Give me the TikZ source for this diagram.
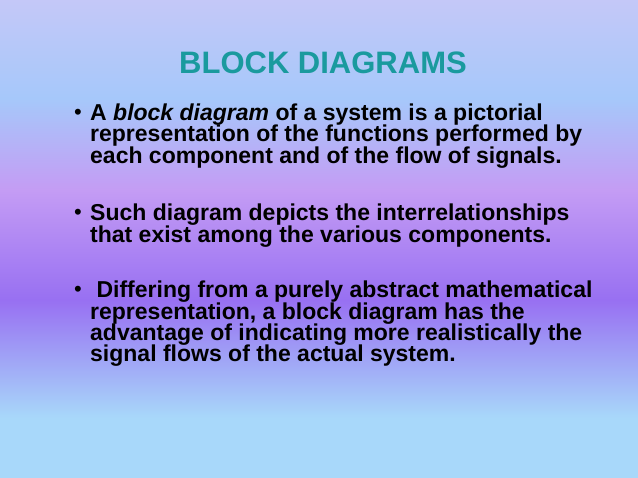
\documentclass[tikz,border=0pt]{standalone}
\usepackage{fontspec}
\setmainfont{Liberation Sans}
\definecolor{cA}{HTML}{A8D8FA}
\definecolor{cB}{HTML}{9870F2}
\definecolor{cC}{HTML}{C49CF4}
\definecolor{cD}{HTML}{A6C8FA}
\definecolor{cE}{HTML}{C4C8F8}
\definecolor{titlec}{HTML}{1A9A9E}
\pgfdeclareverticalshading{bgshade}{100bp}{color(0bp)=(cA); color(25bp)=(cA); color(31.3bp)=(cA); color(43.6bp)=(cB); color(55.1bp)=(cC); color(64.7bp)=(cD); color(75bp)=(cE); color(100bp)=(cE)}
\tikzset{ln/.style={anchor=base west, inner sep=0pt, font=\fontsize{23}{25}\selectfont\bfseries},
 bul/.style={anchor=base west, inner sep=0pt, font=\fontsize{22}{25}\selectfont}}
\begin{document}
\begin{tikzpicture}[x=1pt,y=-1pt]
\useasboundingbox (0,0) rectangle (638,478);
\shade[shading=bgshade] (0,0) rectangle (638,478);
\node[anchor=base, inner sep=0pt, text=titlec, font=\fontsize{31}{35}\selectfont\bfseries] (title) at (323,74) {BLOCK DIAGRAMS};
\node[bul] (b1) at (74,120) {•};
\node[ln] (l1) at (90,121) {A \textit{block diagram} of a system is a pictorial};
\node[ln] (l2) at (90,142) {representation of the functions performed by};
\node[ln] (l3) at (90,164) {each component and of the flow of signals.};
\node[bul] (b2) at (74,220) {•};
\node[ln] (l4) at (90,221) {Such diagram depicts the interrelationships};
\node[ln] (l5) at (90,243) {that exist among the various components.};
\node[bul] (b3) at (74,297) {•};
\node[ln] (l6) at (90,298) {\ Differing from a purely abstract mathematical};
\node[ln] (l7) at (90,320) {representation, a block diagram has the};
\node[ln] (l8) at (90,341) {advantage of indicating more realistically the};
\node[ln] (l9) at (90,362) {signal flows of the actual system.};
\end{tikzpicture}
\end{document}
